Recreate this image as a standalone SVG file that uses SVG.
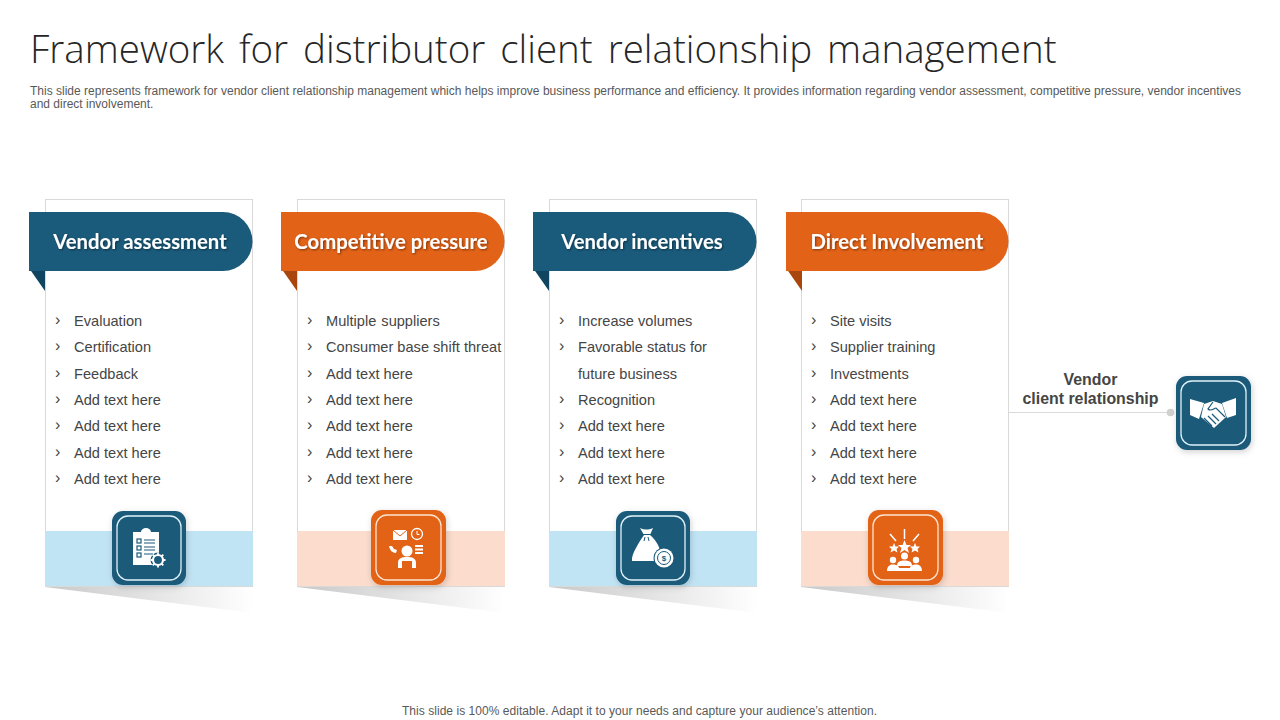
<svg xmlns="http://www.w3.org/2000/svg" width="1280" height="720" viewBox="0 0 1280 720">
<style>
text{font-family:"Liberation Sans",Arial,sans-serif;fill:#454545}
.title{font-family:"Open Sans","Noto Sans",sans-serif;font-weight:300;font-size:38.500px;word-spacing:5px;fill:#262626}
.sub{font-size:12px;fill:#595959}
.item{font-size:14.600px}
.bul{font-size:16px}
.head{font-family:"Lato","Open Sans",sans-serif;font-weight:700;font-size:20.300px;fill:#fff;text-anchor:middle;filter:url(#ts)}
.panel{fill:#fff;stroke:#d9d9d9;stroke-width:1}
.blue{fill:#1a5a7a}.org{fill:#e26218}
.dblue{fill:#0f4560}.dorg{fill:#a8460e}
.lb{fill:#c1e4f5}.lo{fill:#fbdccd}
.ring{fill:none;stroke:#dff2fb;stroke-width:1.300}
.ringo{fill:none;stroke:#fde3d2;stroke-width:1.300}
.w{fill:#fff}
.lab{font-weight:700;font-size:15.900px;text-anchor:middle}
</style>
<defs>
<linearGradient id="sh" x1="0" y1="0" x2="1" y2="0"><stop offset="0" stop-color="#c8c8c8"/><stop offset="1" stop-color="#fff"/></linearGradient>
<filter id="ts" x="-10%" y="-30%" width="120%" height="160%"><feDropShadow dx="1" dy="1" stdDeviation="0.800" flood-color="#000" flood-opacity="0.450"/></filter>
<filter id="ds" x="-20%" y="-20%" width="140%" height="140%"><feDropShadow dx="1" dy="2" stdDeviation="3" flood-color="#000" flood-opacity="0.180"/></filter>
</defs>
<rect width="1280" height="720" fill="#fff"/>
<text class="title" x="30" y="63">Framework for distributor client relationship management</text>
<text class="sub" x="30" y="95" textLength="1211" lengthAdjust="spacing">This slide represents framework for vendor client relationship management which helps improve business performance and efficiency. It provides information regarding vendor assessment, competitive pressure, vendor incentives</text>
<text class="sub" x="30" y="108">and direct involvement.</text>

<g id="card-vendor-assessment">
<path d="M45 587L253 587V613Z" fill="url(#sh)"/>
<rect class="panel" x="45.500" y="199.500" width="207" height="387"/>
<rect class="lb" x="45" y="531" width="208" height="55"/>
<path class="dblue" d="M29 268L45 271V291Z"/>
<path class="blue" d="M29 212H223A29.500 29.500 0 0 1 223 271H29Z"/>
<text class="head" x="140" y="248.500">Vendor assessment</text>
<g class="item-list">
<text class="bul" x="55" y="325">›</text><text class="item" x="74" y="326">Evaluation</text>
<text class="bul" x="55" y="351">›</text><text class="item" x="74" y="352">Certification</text>
<text class="bul" x="55" y="378">›</text><text class="item" x="74" y="379">Feedback</text>
<text class="bul" x="55" y="404">›</text><text class="item" x="74" y="405">Add text here</text>
<text class="bul" x="55" y="430">›</text><text class="item" x="74" y="431">Add text here</text>
<text class="bul" x="55" y="457">›</text><text class="item" x="74" y="458">Add text here</text>
<text class="bul" x="55" y="483">›</text><text class="item" x="74" y="484">Add text here</text>
</g>
<g id="icon-clipboard">
<rect class="blue" x="112" y="511" width="74" height="74" rx="11" filter="url(#ds)"/>
<rect class="ring" x="117" y="516" width="64" height="64" rx="11"/>
<path class="w" d="M133 532H141A5 4 0 0 1 151 532H159V565H133Z"/>
<g fill="none" stroke="#1a5a7a" stroke-width="1.200">
<rect x="137" y="539" width="4" height="4"/><rect x="137" y="546" width="4" height="4"/><rect x="137" y="553" width="4" height="4"/>
<path d="M144 540H155M144 543H155M144 547H155M144 550H155M144 554H153"/>
</g>
<circle cx="158" cy="560" r="7.500" fill="#1a5a7a"/>
<circle cx="158" cy="560" r="5" fill="#1a5a7a" stroke="#fff" stroke-width="2.200"/>
<path d="M158 552.500V555M158 565V567.500M150.500 560H153M163 560H165.500M152.700 554.700L154.500 556.500M161.500 563.500L163.300 565.300M163.300 554.700L161.500 556.500M154.500 563.500L152.700 565.300" stroke="#fff" stroke-width="1.800" fill="none"/>
</g>
</g>

<g id="card-competitive-pressure">
<path d="M297 587L505 587V613Z" fill="url(#sh)"/>
<rect class="panel" x="297.500" y="199.500" width="207" height="387"/>
<rect class="lo" x="297" y="531" width="208" height="55"/>
<path class="dorg" d="M281 268L297 271V291Z"/>
<path class="org" d="M281 212H475A29.500 29.500 0 0 1 475 271H281Z"/>
<text class="head" x="391" y="248.500">Competitive pressure</text>
<g class="item-list">
<text class="bul" x="307" y="325">›</text><text class="item" x="326" y="326" word-spacing="1">Multiple suppliers</text>
<text class="bul" x="307" y="351">›</text><text class="item" x="326" y="352">Consumer base shift threat</text>
<text class="bul" x="307" y="378">›</text><text class="item" x="326" y="379">Add text here</text>
<text class="bul" x="307" y="404">›</text><text class="item" x="326" y="405">Add text here</text>
<text class="bul" x="307" y="430">›</text><text class="item" x="326" y="431">Add text here</text>
<text class="bul" x="307" y="457">›</text><text class="item" x="326" y="458">Add text here</text>
<text class="bul" x="307" y="483">›</text><text class="item" x="326" y="484">Add text here</text>
</g>
<g id="icon-pressure">
<rect class="org" x="371" y="510" width="75" height="75" rx="11" filter="url(#ds)"/>
<rect class="ringo" x="376" y="515" width="65" height="65" rx="11"/>
<rect class="w" x="393" y="530" width="14" height="10"/>
<path d="M393 530L400 536L407 530" fill="none" stroke="#e26218" stroke-width="1"/>
<circle cx="417" cy="534" r="5.500" fill="none" stroke="#fff" stroke-width="1.300"/>
<path d="M417 531V534.500H419.500" fill="none" stroke="#fff" stroke-width="1"/>
<path class="w" d="M389 546C390 551 393 553 396 553L397 550L394 549L392 546Z"/>
<circle class="w" cx="407" cy="551" r="5.500"/>
<path class="w" d="M398 568V563C398 558 402 557 407 557C412 557 416 558 416 563V568H412V561H402V568Z"/>
<path d="M415 546H423M415 549.500H423M415 553H423" fill="none" stroke="#fff" stroke-width="2"/>
</g>
</g>

<g id="card-vendor-incentives">
<path d="M549 587L757 587V613Z" fill="url(#sh)"/>
<rect class="panel" x="549.500" y="199.500" width="207" height="387"/>
<rect class="lb" x="549" y="531" width="208" height="55"/>
<path class="dblue" d="M533 268L549 271V291Z"/>
<path class="blue" d="M533 212H727A29.500 29.500 0 0 1 727 271H533Z"/>
<text class="head" x="642" y="248.500">Vendor incentives</text>
<g class="item-list">
<text class="bul" x="559" y="325">›</text><text class="item" x="578" y="326">Increase volumes</text>
<text class="bul" x="559" y="351">›</text><text class="item" x="578" y="352">Favorable status for</text>
<text class="item" x="578" y="379">future business</text>
<text class="bul" x="559" y="404">›</text><text class="item" x="578" y="405">Recognition</text>
<text class="bul" x="559" y="430">›</text><text class="item" x="578" y="431">Add text here</text>
<text class="bul" x="559" y="457">›</text><text class="item" x="578" y="458">Add text here</text>
<text class="bul" x="559" y="483">›</text><text class="item" x="578" y="484">Add text here</text>
</g>
<g id="icon-moneybag">
<rect class="blue" x="616" y="511" width="74" height="74" rx="11" filter="url(#ds)"/>
<rect class="ring" x="621" y="516" width="64" height="64" rx="11"/>
<path class="w" d="M640 528C644 530 648 530 653 528L650 535C656 540 661 548 660 554C655 556 653 559 654 561H632C631 554 640 541 644 535Z"/>
<path d="M643 534.500H651M645 537L644 541M648 537L649 541" fill="none" stroke="#1a5a7a" stroke-width="1"/>
<circle cx="664" cy="558" r="10.500" fill="#1a5a7a"/>
<circle class="w" cx="664" cy="558" r="9.500"/>
<circle cx="664" cy="558" r="6.500" fill="none" stroke="#1a5a7a" stroke-width="1"/>
<text x="664" y="561" font-size="8" font-weight="700" text-anchor="middle" style="fill:#1a5a7a">$</text>
</g>
</g>

<g id="card-direct-involvement">
<path d="M801 587L1009 587V613Z" fill="url(#sh)"/>
<rect class="panel" x="801.500" y="199.500" width="207" height="387"/>
<rect class="lo" x="801" y="531" width="208" height="55"/>
<path class="dorg" d="M786 268L802 271V291Z"/>
<path class="org" d="M786 212H979A29.500 29.500 0 0 1 979 271H786Z"/>
<text class="head" x="897" y="248.500">Direct Involvement</text>
<g class="item-list">
<text class="bul" x="811" y="325">›</text><text class="item" x="830" y="326">Site visits</text>
<text class="bul" x="811" y="351">›</text><text class="item" x="830" y="352">Supplier training</text>
<text class="bul" x="811" y="378">›</text><text class="item" x="830" y="379">Investments</text>
<text class="bul" x="811" y="404">›</text><text class="item" x="830" y="405">Add text here</text>
<text class="bul" x="811" y="430">›</text><text class="item" x="830" y="431">Add text here</text>
<text class="bul" x="811" y="457">›</text><text class="item" x="830" y="458">Add text here</text>
<text class="bul" x="811" y="483">›</text><text class="item" x="830" y="484">Add text here</text>
</g>
<g id="icon-team-stars">
<rect class="org" x="868" y="510" width="75" height="75" rx="11" filter="url(#ds)"/>
<rect class="ringo" x="873" y="515" width="65" height="65" rx="11"/>
<path d="M904.500 529V539M890 534L896 541M919 534L913 541" fill="none" stroke="#fff" stroke-width="1.500"/>
<path class="w" d="M904.500 540L906.500 545H911L907.500 548L909 553L904.500 550L900 553L901.500 548L898 545H902.500Z"/>
<path class="w" d="M894 543L895.500 546.500H899L896.500 549L897.500 552.500L894 550.500L890.500 552.500L891.500 549L889 546.500H892.500Z"/>
<path class="w" d="M915 543L916.500 546.500H920L917.500 549L918.500 552.500L915 550.500L911.500 552.500L912.500 549L910 546.500H913.500Z"/>
<circle class="w" cx="904.500" cy="556" r="3.500"/><circle class="w" cx="893" cy="560" r="3.200"/><circle class="w" cx="916" cy="560" r="3.200"/>
<path class="w" d="M897 566C897 561 901 560.500 904.500 560.500C908 560.500 912 561 912 566Z"/>
<path class="w" d="M887 571C887 566 890 564.500 893 564.500C896 564.500 899 566 899 568H910C910 566 913 564.500 916 564.500C919 564.500 922 566 922 571Z"/>
</g>
</g>

<g id="connectors">
<path d="M1009 412.500H1170" fill="none" stroke="#d9d9d9" stroke-width="1"/>
<circle cx="1170.500" cy="412.500" r="3.800" fill="#d0d0d0"/>
</g>

<g id="node-vendor-client-relationship">
<text class="lab" x="1090.500" y="385">Vendor</text>
<text class="lab" x="1090.500" y="404">client relationship</text>
<rect class="blue" x="1176" y="376" width="75" height="74" rx="11" filter="url(#ds)"/>
<rect class="ring" x="1181" y="381" width="65" height="64" rx="11"/>
<path class="w" d="M1190 399L1204 403L1199 419L1190 415Z"/>
<path class="w" d="M1236 398L1222 403L1227 418L1236 415Z"/>
<path class="w" d="M1204 404L1213 401L1222 404L1226 417L1214 428L1201 417Z"/>
<path d="M1213 402L1208 409C1211 412 1214 408 1216 408L1225 417M1204 418L1212 426M1208 416L1216 424M1212 414L1219 421" fill="none" stroke="#1a5a7a" stroke-width="1.200"/>
</g>

<text x="639.500" y="715" font-size="12" text-anchor="middle" style="fill:#595959" textLength="475" lengthAdjust="spacing">This slide is 100% editable. Adapt it to your needs and capture your audience’s attention.</text>
</svg>
